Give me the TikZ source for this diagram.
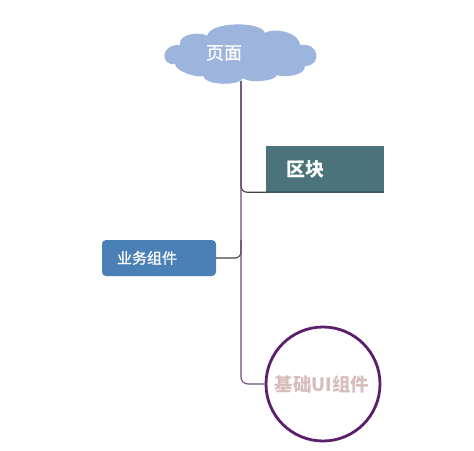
\documentclass[tikz,border=0pt]{standalone}
\usepackage{fontspec}
\setmainfont{Noto Sans CJK SC}
\newfontfamily\medfont[FakeBold=0.8]{Noto Sans CJK SC}
\definecolor{cloudblue}{HTML}{9DB4DD}
\definecolor{blockteal}{HTML}{4A737C}
\definecolor{blockedge}{HTML}{3A5A62}
\definecolor{bizblue}{HTML}{4A80B6}
\definecolor{trunk}{HTML}{6E4A7E}
\definecolor{ringpurple}{HTML}{5B1F6B}
\definecolor{uitext}{HTML}{D8BDBD}
\tikzset{
  cloudfill/.style={fill=cloudblue, draw=none},
  pagetext/.style={rectangle, text=white, font=\medfont\fontsize{18}{21}\selectfont, inner sep=0pt},
  blockbox/.style={rectangle, fill=blockteal, minimum width=118pt, minimum height=46pt, text=white,
     font=\fontsize{19}{22}\selectfont\bfseries, text width=80pt, align=left, inner sep=0pt},
  bizbox/.style={rectangle, rounded corners=4pt, fill=bizblue, minimum width=114pt, minimum height=36pt,
     text=white, font=\medfont\fontsize{15}{18}\selectfont, text width=84pt, align=left, inner sep=0pt},
  uicircle/.style={circle, draw=ringpurple, line width=2.8pt, minimum size=114pt, text=uitext,
     font=\fontsize{18.4}{22}\selectfont\bfseries, inner sep=0pt},
  link/.style={draw=trunk, line width=1.1pt, rounded corners=7pt},
  stub/.style={draw=black!75, line width=1.1pt, rounded corners=6pt}
}
\begin{document}
\begin{tikzpicture}[x=1pt,y=-1pt]
\useasboundingbox (0,0) rectangle (474,450);
% cloud outline
\path[cloudfill] (180,45)
  .. controls (178,32) and (204,32) .. (207,36)
  .. controls (210,21) and (262,21) .. (265,33)
  .. controls (270,28) and (298,30) .. (300,45)
  .. controls (320,42) and (322,66) .. (305,66)
  .. controls (306,76) and (282,78) .. (277,75)
  .. controls (275,82) and (246,83) .. (243,78)
  .. controls (240,86) and (206,86) .. (203,76)
  .. controls (198,78) and (176,72) .. (175,64)
  .. controls (160,66) and (160,44) .. (180,45) -- cycle;
\node[pagetext] (page) at (224,53) {页面};
\coordinate (pagebot) at (241,81);
\node[blockbox] (block) at (325,169) {\hspace*{1pt}区块};
\node[bizbox] (biz) at (159,258) {业务组件};
\node[uicircle] (ui) at (323,384) {\hspace*{-2pt}基础UI组件};
\draw[stub] (pagebot) |- (block.south west);
\draw[stub] (biz.east) -| (pagebot |- biz.north);
\draw[link] (pagebot) |- (ui.west);
\draw[blockedge, line width=2pt] (block.south west) -- (block.south east);
\end{tikzpicture}
\end{document}
